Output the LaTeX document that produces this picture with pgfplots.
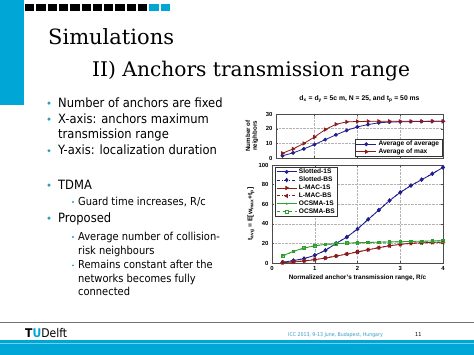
\documentclass[border=0pt]{standalone}
\usepackage{pgfplots}
\pgfplotsset{compat=1.18}
\usepackage{fontspec}
\setmainfont{Liberation Sans}
\newfontfamily\bodyfont{DejaVu Sans Condensed}
\newfontfamily\titlefont{DejaVu Serif}
\definecolor{tud}{HTML}{00A6D6}
\definecolor{bul}{HTML}{2E9BC4}
\definecolor{mblue}{HTML}{1F1F8F}
\definecolor{mred}{HTML}{8B1A1A}
\definecolor{mgreen}{HTML}{2E9E2E}
\definecolor{gridc}{gray}{0.7}
\definecolor{foot}{HTML}{3A9CC0}
\pgfplotstableread{
x avg max
0.25 1.5 3.2
0.50 3.5 6.2
0.75 6.2 9.9
1.00 9.2 14.3
1.25 12.5 19.4
1.50 15.8 23.0
1.75 18.8 24.6
2.00 21.2 24.9
2.25 22.8 25.0
2.50 24.0 25.0
2.75 24.5 25.0
3.00 24.7 25.0
3.25 24.8 25.0
3.50 24.9 25.0
3.75 25.0 25.0
4.00 25.0 25.0
}\topdata
\pgfplotstableread{
x s1 sb l1 lb o1 ob
0.25 0.7 0.8 0.4 0.5 7.3 7.2
0.50 2.4 2.5 1.0 1.2 11.9 11.8
0.75 4.4 4.5 2.0 2.2 15.3 15.2
1.00 7.8 7.9 3.4 3.6 17.6 17.5
1.25 12.9 13.0 5.0 5.2 19.0 18.9
1.50 20.0 20.1 7.0 7.2 19.7 19.6
1.75 26.4 26.5 9.1 9.3 20.3 20.2
2.00 34.6 34.7 11.2 11.4 20.7 20.6
2.25 44.5 44.6 13.5 13.6 21.0 20.9
2.50 54.0 54.1 15.6 15.7 21.3 21.2
2.75 63.7 63.8 17.6 17.6 21.5 21.4
3.00 72.0 72.1 19.0 19.0 21.7 21.6
3.25 79.0 79.1 20.1 20.1 22.0 21.9
3.50 85.0 85.1 20.6 20.6 22.2 22.1
3.75 91.0 91.1 21.0 21.0 22.5 22.4
4.00 97.5 97.6 21.3 21.3 22.8 22.7
}\botdata
\pgfplotsset{
  slide/.style={
    scale only axis, anchor=south west,
    xmin=0, xmax=4,
    grid=major, grid style={densely dotted, gridc, line width=0.35pt},
    tick align=inside, major tick length=2pt,
    axis line style={black!70, line width=0.4pt},
    every tick/.style={black!70, line width=0.3pt},
    tick label style={font=\fontsize{5.9}{5.9}\selectfont\bfseries},
    /pgf/number format/assume math mode=true,
    legend cell align=left,
    legend style={font=\fontsize{6.6}{7}\selectfont\bfseries, draw=black!80, line width=0.4pt, inner sep=1pt,
      nodes={inner ysep=0.6pt, inner xsep=1.8pt}},
    legend image code/.code={
      \draw[mark repeat=2,mark phase=2,#1] plot coordinates {(0pt,0pt) (10pt,0pt) (20pt,0pt)};
    },
  }
}
\begin{document}
\begin{tikzpicture}[x=1pt,y=1pt]
\path[use as bounding box, fill=white] (0,0) rectangle (474,355);
% left bar and squares
\fill[tud] (0,250) rectangle (24,355);
\foreach \i in {0,...,10} {\fill[black] ({25+\i*11.3},344.3) rectangle ({34.3+\i*11.3},350.7);}
\foreach \i in {11,12} {\fill[tud] ({25+\i*11.3},344.3) rectangle ({34.3+\i*11.3},350.7);}
% titles
\node[anchor=base west, inner sep=0pt] at (48,310) {\titlefont\fontsize{21}{21}\selectfont Simulations};
\node[anchor=base west, inner sep=0pt] at (92,278.5) {\titlefont\fontsize{20.2}{20.2}\selectfont II) Anchors transmission range};
% bullets level 1
\foreach \yy/\txt in {107.3/Number of anchors are fixed, 123.3/X-axis: anchors maximum, 155/Y-axis: localization duration, 189.3/TDMA, 222.3/Proposed} {
  \fill[bul] (49,{355-\yy+4.2}) circle (1.7);
  \node[anchor=base west, inner sep=0pt] at (58,{355-\yy}) {\bodyfont\fontsize{12.8}{12.8}\selectfont \txt};
}
\node[anchor=base west, inner sep=0pt] at (58,{355-139}) {\bodyfont\fontsize{12.8}{12.8}\selectfont transmission range};
% level 2
\foreach \yy/\txt in {205.7/{Guard time increases, R/c}, 240.7/Average number of collision-, 269/Remains constant after the} {
  \fill[bul] (73,{355-\yy+3.6}) circle (1.1);
  \node[anchor=base west, inner sep=0pt] at (78,{355-\yy}) {\bodyfont\fontsize{11}{11}\selectfont \txt};
}
\foreach \yy/\txt in {255/risk neighbours, 282.3/networks becomes fully, 296/connected} {
  \node[anchor=base west, inner sep=0pt] at (78,{355-\yy}) {\bodyfont\fontsize{11}{11}\selectfont \txt};
}
% footer
\draw[black!55, line width=0.8pt] (0,33) -- (474,33);
\node[anchor=base west, inner sep=0pt] at (25,17) {\bodyfont\fontsize{12}{12}\selectfont \textbf{T}{\color{tud}\textbf{U}}Delft};
\node[anchor=base west, inner sep=0pt] at (288,18) {\bodyfont\fontsize{5.2}{5.2}\selectfont\color{foot} ICC 2013, 9-13 June, Budapest, Hungary};
\node[anchor=base west, inner sep=0pt] at (415,18) {\bodyfont\fontsize{5.5}{5.5}\selectfont 11};
\fill[tud] (0,0) rectangle (474,15);
\fill[white, opacity=0.45] (0,11) rectangle (474,12.2);
% top chart
\begin{axis}[slide, at={(276pt,197pt)}, width=167pt, height=44pt,
  xmin=0.1, ymin=0, ymax=30, xtick={1,2,3}, xticklabels={}, ytick={0,10,20,30},
  title={d\textsubscript{x} = d\textsubscript{y} = 5c m, N = 25, and t\textsubscript{p} = 50 ms},
  title style={font=\fontsize{6.8}{6.8}\selectfont\bfseries, at={(axis description cs:0.5,1)}, anchor=south, inner sep=0pt, yshift=5pt},
  ylabel={Number of\\neighbors},
  ylabel style={font=\fontsize{6.2}{6.6}\selectfont\bfseries, align=center, at={(axis description cs:-0.144,0.5)}, anchor=center},
  legend style={at={(0.995,0.03)}, anchor=south east, row sep=0pt},
]
\addplot[mblue, line width=0.8pt, mark=*, mark size=1.5pt] table[x=x, y=avg] {\topdata};
\addlegendentry{Average of average}
\addplot[mred, line width=0.8pt, mark=triangle*, mark size=1.8pt, mark options={rotate=-90}] table[x=x, y=max] {\topdata};
\addlegendentry{Average of max}
\end{axis}
% bottom chart
\begin{axis}[slide, at={(272pt,92pt)}, width=171pt, height=98pt,
  ymin=0, ymax=100, xtick={0,1,2,3,4}, ytick={0,20,40,60,80,100},
  xlabel={Normalized anchor's transmission range, R/c},
  xlabel style={font=\fontsize{6.4}{6.4}\selectfont\bfseries, at={(axis description cs:0.5,0)}, anchor=center, yshift=-15pt},
  ylabel={t\textsubscript{avg} = E[w\textsubscript{max}+t\textsubscript{p}]},
  ylabel style={font=\fontsize{6.8}{6.8}\selectfont\bfseries, at={(axis description cs:-0.123,0.5)}, anchor=center},
  legend style={at={(0.018,0.98)}, anchor=north west, row sep=0.6pt},
]
\addplot[mblue, line width=0.8pt, mark=*, mark size=1.5pt] table[x=x, y=s1] {\botdata};
\addlegendentry{Slotted-1S}
\addplot[mblue, line width=0.8pt, dashdotted, mark=diamond*, mark size=1.7pt, mark options={solid}] table[x=x, y=sb] {\botdata};
\addlegendentry{Slotted-BS}
\addplot[mred, line width=0.8pt, mark=triangle*, mark size=1.8pt, mark options={rotate=-90}] table[x=x, y=l1] {\botdata};
\addlegendentry{L-MAC-1S}
\addplot[mred, line width=0.8pt, dashdotted, mark=triangle*, mark size=1.8pt, mark options={rotate=90, solid}] table[x=x, y=lb] {\botdata};
\addlegendentry{L-MAC-BS}
\addplot[mgreen, line width=0.8pt, mark=*, mark size=0.5pt] table[x=x, y=o1] {\botdata};
\addlegendentry{OCSMA-1S}
\addplot[mgreen, line width=0.8pt, dashed, mark=square, mark size=1.3pt, mark options={solid}] table[x=x, y=ob] {\botdata};
\addlegendentry{OCSMA-BS}
\end{axis}
\end{tikzpicture}
\end{document}
